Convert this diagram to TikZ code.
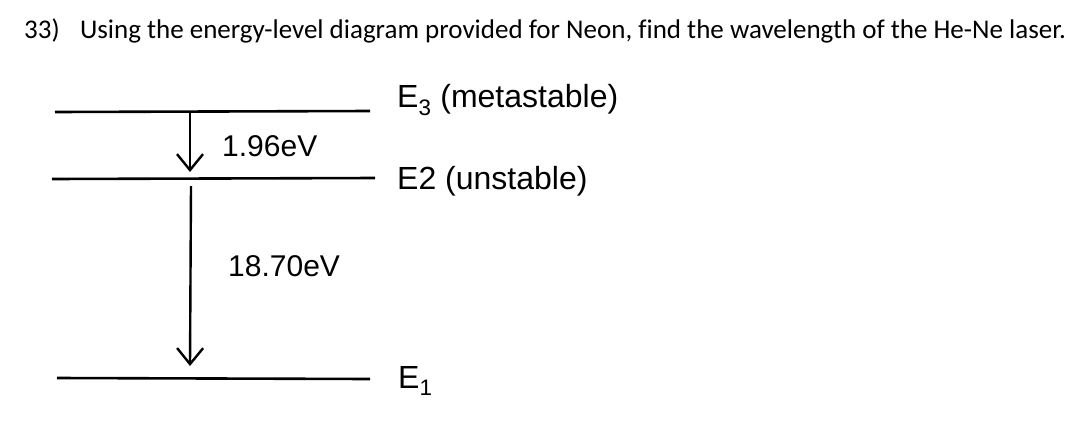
\documentclass[tikz,border=0pt]{standalone}
\usepackage{fontspec}
\setmainfont[Ligatures=CommonOff]{Carlito}
\newfontfamily\handfont{Liberation Sans}
\usetikzlibrary{arrows.meta}
\tikzset{
  level/.style={line width=2.6pt},
  trans/.style={line width=2.4pt,-{Straight Barb[length=16pt,width=26pt,line width=2.4pt]}},
  hand/.style={font=\handfont\fontsize{30}{34}\selectfont,inner sep=0pt},
  levlab/.style={hand,font=\handfont\fontsize{32}{36}\selectfont,anchor=west},
}
\begin{document}
\begin{tikzpicture}[x=1pt,y=-1pt]
	\useasboundingbox (0,0) rectangle (1080,421);
	\node[anchor=base west,inner sep=0pt,font=\fontsize{27}{31}\selectfont] (title) at (24,38)
	  {33)\hspace{0.75em}Using the energy-level diagram provided for Neon, find the wavelength of the He-Ne laser.};

	\coordinate (e3l) at (55,112); \coordinate (e3r) at (370,111);
	\coordinate (e2l) at (52,179); \coordinate (e2r) at (375,178);
	\coordinate (e1l) at (57,378); \coordinate (e1r) at (370,379);

	\coordinate (a1s) at (190,113); \coordinate (a1e) at (190,172);
	\coordinate (a2s) at (191,186); \coordinate (a2e) at (190,366);

	\draw[level] (e3l) -- (e3r);
	\draw[level] (e2l) -- (e2r);
	\draw[level] (e1l) -- (e1r);
	\draw[trans] (a1s) -- (a1e);
	\draw[trans] (a2s) -- (a2e);

	\node[hand,anchor=west] (gap32) at (222,146) {1.96eV};
	\node[hand,anchor=west] (gap21) at (228,266) {18.70eV};
	\node[levlab] (lab3) at (397,100) {E\textsubscript{3} (metastable)};
	\node[levlab] (lab2) at (397,181) {E2 (unstable)};
	\node[levlab] (lab1) at (398,381) {E\textsubscript{1}};
\end{tikzpicture}
\end{document}
